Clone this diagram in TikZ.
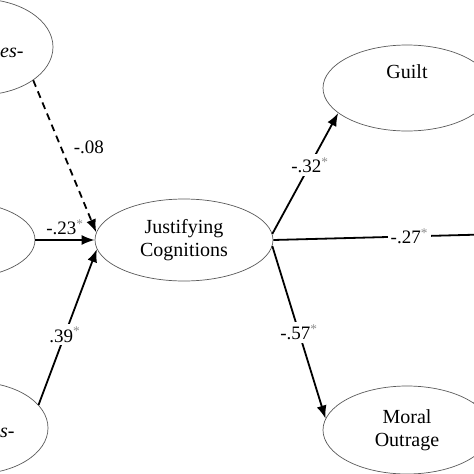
\documentclass[tikz,border=0pt]{standalone}
\usepackage{fontspec}
\setmainfont{Liberation Serif}
\usetikzlibrary{shapes.geometric,arrows.meta}

\begin{document}
\begin{tikzpicture}[x=1pt,y=-1pt,
    latent/.style={ellipse,draw=black!65,line width=0.7pt,inner sep=0pt,
      align=center,font=\fontsize{20}{23}\selectfont},
    path/.style={line width=1.8pt,-{Latex[length=13pt,width=10pt]}},
    coef/.style={font=\fontsize{19}{21}\selectfont,inner sep=2pt},
    gapcoef/.style={coef,fill=white,inner sep=3pt}]

\newcommand{\sig}{\textsuperscript{\color{black!45}*}}

\useasboundingbox (0,0) rectangle (474,474);
\clip (0,0) rectangle (474,474);

% Predictors on the left (cut off by the frame)
\node[latent,minimum width=146pt,minimum height=96pt] (tl) at (-20,47) {};
\node[latent,minimum width=150pt,minimum height=76pt] (ml) at (-40,240) {};
\node[latent,minimum width=146pt,minimum height=92pt] (bl) at (-25,428) {};
\node[font=\fontsize{20}{23}\selectfont\itshape,anchor=west,inner sep=0pt] (tltext) at (0,53) {es-};
\node[font=\fontsize{20}{23}\selectfont\itshape,anchor=west,inner sep=0pt] (bltext) at (0,433) {s-};

% Mediator and outcomes
\node[latent,minimum width=178pt,minimum height=82pt] (jc) at (184,240) {Justifying\\Cognitions};
\node[latent,minimum width=168pt,minimum height=86pt] (guilt) at (407,88) {Guilt\\[10pt]};
\node[latent,minimum width=168pt,minimum height=88pt] (mo) at (407,430) {Moral\\Outrage};

\coordinate (rt) at (540,233);
\coordinate (rb) at (500,392);

% Paths into the mediator
\draw[path,dash pattern=on 7pt off 5pt] (tl.-32) -- node[coef,pos=0.44,anchor=west,xshift=10pt] {-.08} (jc.175);
\draw[path] (ml.east) -- node[coef,above=2pt] {-.23\sig} (jc.west);
\draw[path] (bl.20) -- node[gapcoef,pos=0.45] {.39\sig} (jc.186);

% Paths out of the mediator
\draw[path] (jc.4) -- node[gapcoef,pos=0.57] {-.32\sig} (guilt.200);
\draw[path] (jc.east) -- node[gapcoef,pos=0.51] {-.27\sig} (rt);
\draw[path] (jc.-4) -- node[gapcoef,pos=0.5] {-.57\sig} (mo.172);
\draw[line width=1.8pt] (mo.22) -- (rb);

\end{tikzpicture}
\end{document}
